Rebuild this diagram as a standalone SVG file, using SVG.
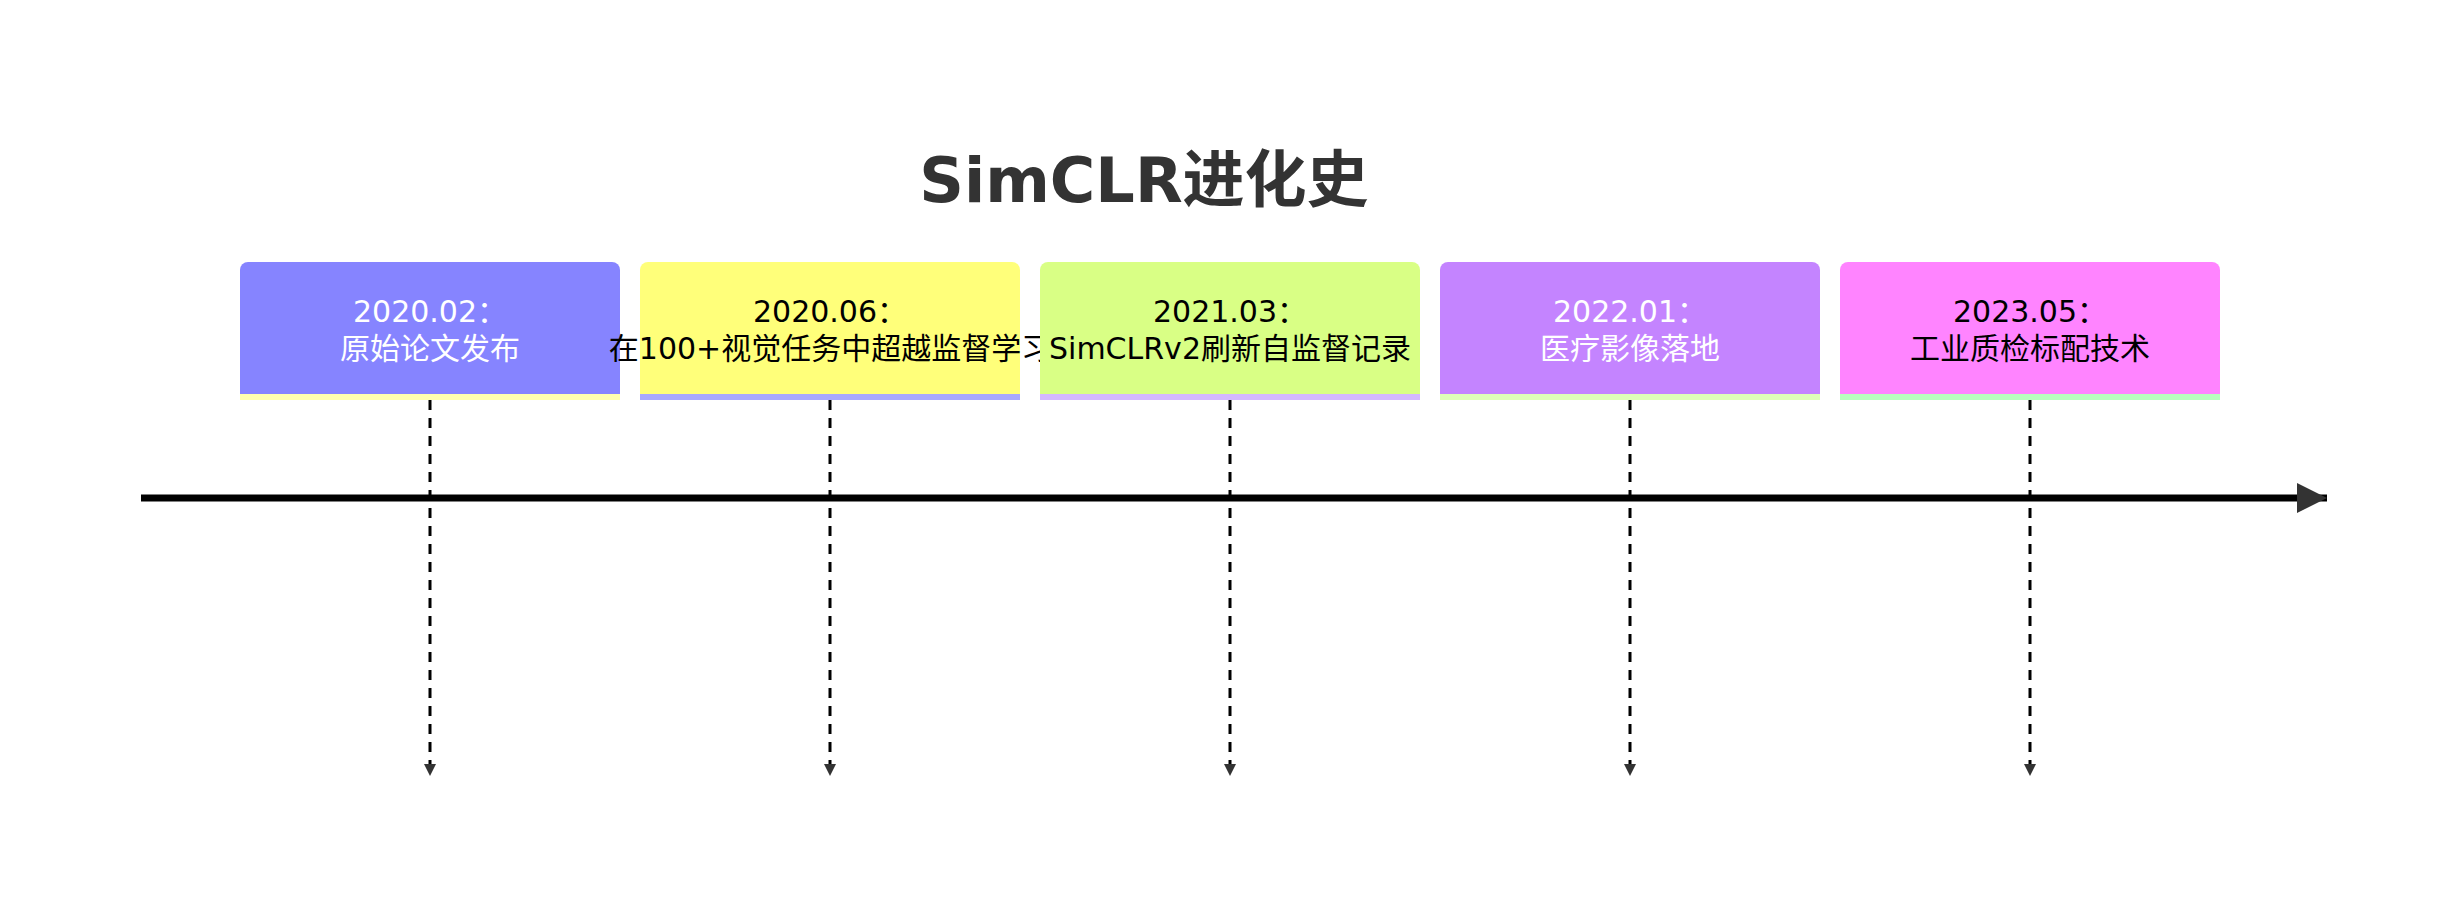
<svg xmlns="http://www.w3.org/2000/svg" width="2460" height="912" viewBox="0 0 2460 912">
<style>
text{font-family:"DejaVu Sans","Noto Sans CJK SC",sans-serif;font-size:30px;text-anchor:middle}
.t{font-size:62px;font-weight:bold;fill:#333}
.w{fill:#fff}.b{fill:#000}
.dash{stroke:#000;stroke-width:3;stroke-dasharray:10 8;fill:none}
</style>
<defs>
<marker id="ah" viewBox="0 0 10 10" refX="10" refY="5" markerWidth="12" markerHeight="20" markerUnits="userSpaceOnUse" orient="auto"><path d="M0,0L10,5L0,10z" fill="#333"/></marker>
<marker id="big" viewBox="0 0 10 10" refX="10" refY="5" markerWidth="46" markerHeight="30" markerUnits="userSpaceOnUse" orient="auto"><path d="M0,0L10,5L0,10z" fill="#333"/></marker>
</defs>
<rect width="2460" height="912" fill="#fff"/>
<text class="t" x="1144" y="202">SimCLR进化史</text>
<g id="connectors">
<line x1="141" y1="498" x2="2327" y2="498" stroke="#000" stroke-width="7" marker-end="url(#big)"/>
<line class="dash" x1="430" y1="400" x2="430" y2="776" marker-end="url(#ah)"/>
<line class="dash" x1="830" y1="400" x2="830" y2="776" marker-end="url(#ah)"/>
<line class="dash" x1="1230" y1="400" x2="1230" y2="776" marker-end="url(#ah)"/>
<line class="dash" x1="1630" y1="400" x2="1630" y2="776" marker-end="url(#ah)"/>
<line class="dash" x1="2030" y1="400" x2="2030" y2="776" marker-end="url(#ah)"/>
</g>
<g id="n1"><rect x="240" y="394" width="380" height="6" fill="#FFFFB0"/><path d="M240,394V270a8,8 0 0 1 8-8H612a8,8 0 0 1 8,8V394z" fill="#8684FF"/><text class="w" x="430" y="322">2020.02：</text><text class="w" x="430" y="359">原始论文发布</text></g>
<g id="n2"><rect x="640" y="394" width="380" height="6" fill="#A8A8FF"/><path d="M640,394V270a8,8 0 0 1 8-8H1012a8,8 0 0 1 8,8V394z" fill="#FFFF7A"/><text class="b" x="830" y="322">2020.06：</text><text class="b" x="830" y="359">在100+视觉任务中超越监督学习</text></g>
<g id="n3"><rect x="1040" y="394" width="380" height="6" fill="#D4B8FF"/><path d="M1040,394V270a8,8 0 0 1 8-8H1412a8,8 0 0 1 8,8V394z" fill="#D9FF85"/><text class="b" x="1230" y="322">2021.03：</text><text class="b" x="1230" y="359">SimCLRv2刷新自监督记录</text></g>
<g id="n4"><rect x="1440" y="394" width="380" height="6" fill="#DEFFB8"/><path d="M1440,394V270a8,8 0 0 1 8-8H1812a8,8 0 0 1 8,8V394z" fill="#C484FF"/><text class="w" x="1630" y="322">2022.01：</text><text class="w" x="1630" y="359">医疗影像落地</text></g>
<g id="n5"><rect x="1840" y="394" width="380" height="6" fill="#B8FFBE"/><path d="M1840,394V270a8,8 0 0 1 8-8H2212a8,8 0 0 1 8,8V394z" fill="#FF84FF"/><text class="b" x="2030" y="322">2023.05：</text><text class="b" x="2030" y="359">工业质检标配技术</text></g>
</svg>
